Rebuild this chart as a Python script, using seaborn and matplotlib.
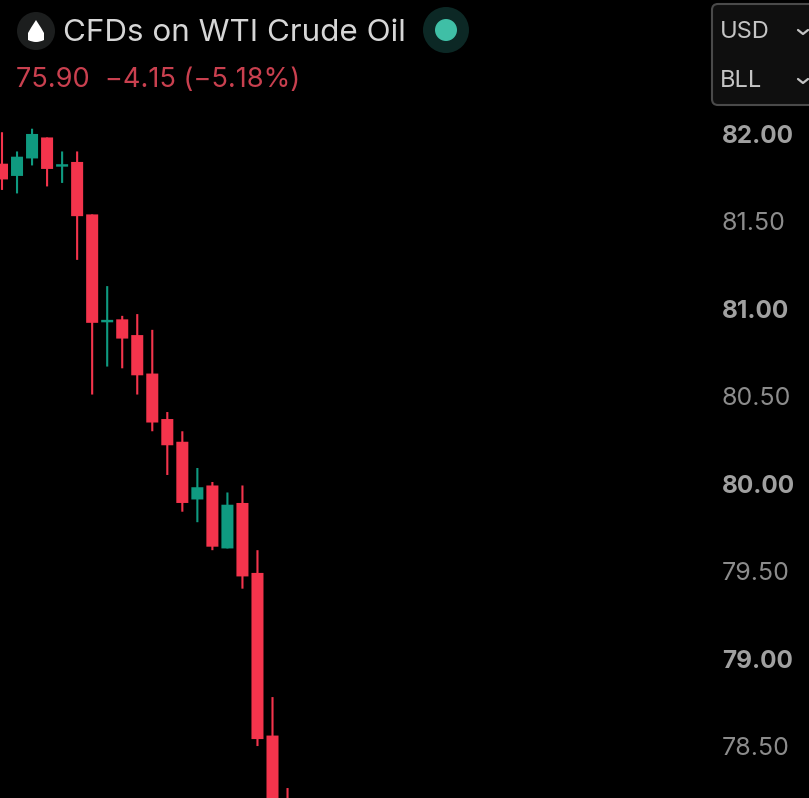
import pandas as pd
import matplotlib
matplotlib.use('Agg')
import matplotlib.pyplot as plt
from matplotlib.patches import Circle, FancyBboxPatch, PathPatch
from matplotlib.path import Path
import seaborn as sns

# candles
opens = [81.83, 81.76, 81.86, 81.98, 81.813, 81.84, 81.54, 80.923, 80.94, 80.85,
         80.63, 80.37, 80.24, 79.91, 79.99, 79.63, 79.89, 79.49, 78.56, 78.15]
closes = [81.74, 81.87, 82.00, 81.80, 81.827, 81.53, 80.92, 80.937, 80.83, 80.62,
          80.35, 80.22, 79.89, 79.98, 79.64, 79.88, 79.47, 78.54, 78.00, 77.80]
highs = [82.01, 81.90, 82.03, 81.98, 81.90, 81.90, 81.54, 81.13, 80.96, 80.97,
         80.88, 80.41, 80.30, 80.09, 80.01, 79.95, 79.99, 79.62, 78.78, 78.26]
lows = [81.68, 81.66, 81.82, 81.70, 81.72, 81.28, 80.51, 80.67, 80.66, 80.51,
        80.30, 80.05, 79.84, 79.78, 79.62, 79.63, 79.40, 78.50, 77.90, 77.70]
price_ticks = [82.0, 81.5, 81.0, 80.5, 80.0, 79.5, 79.0, 78.5]

title = 'CFDs on WTI Crude Oil'
quote = '75.90  \u22124.15 (\u22125.18%)'
units = ['USD', 'BLL']

RED = '#f4344c'
GREEN = '#0f9a80'
W, H = 809, 798

sns.set_theme(style='dark', rc={'axes.facecolor': 'black', 'figure.facecolor': 'black'})
plt.rcParams['font.family'] = ['Inter', 'DejaVu Sans']

df = pd.DataFrame({'open': opens, 'close': closes, 'high': highs, 'low': lows})
df['i'] = range(len(df))
df['up'] = df['close'] >= df['open']
df['bottom'] = df[['open', 'close']].min(axis=1)
df['body'] = (df['close'] - df['open']).abs()
df['wick'] = df['high'] - df['low']

fig = plt.figure(figsize=(W / 100, H / 100), dpi=100)
ax = fig.add_axes([0, 0, 1, 1])

# snap=False keeps every wick the same width
for is_up, color in [(True, GREEN), (False, RED)]:
    part = df[df['up'] == is_up]
    sns.barplot(data=part, x='i', y='wick', bottom=part['low'].values, color=color,
                native_scale=True, width=0.14, saturation=1, linewidth=0, snap=False, ax=ax)
    sns.barplot(data=part, x='i', y='body', bottom=part['bottom'].values, color=color,
                native_scale=True, width=0.8, saturation=1, linewidth=0, snap=False, ax=ax)

# one candle is about 15 px, first one sits at x=2
ax.set_xlim(-0.133, 53.7)
ax.set_ylim(78.203, 82.766)
ax.set_xlabel('')
ax.set_ylabel('')
ax.set_xticks([])
ax.grid(False)
for s in ax.spines.values():
    s.set_visible(False)

ax.yaxis.tick_right()
ax.set_yticks(price_ticks)
ax.set_yticklabels([f'{p:.2f}' for p in price_ticks])
ax.tick_params(axis='y', length=0, pad=-62.8, labelsize=18)
for p, lab in zip(price_ticks, ax.get_yticklabels()):
    lab.set_ha('left')
    if p == int(p):
        lab.set_fontweight('bold')
        lab.set_fontsize(17.5)
        lab.set_color('#a0a0a0')
    else:
        lab.set_color('#8c8c8c')

# header drawn in pixel coordinates
top = fig.add_axes([0, 0, 1, 1], facecolor='none')
top.set_xlim(0, W)
top.set_ylim(H, 0)
top.axis('off')

top.add_patch(Circle((36, 31), 19, color='#1c1e1e', lw=0))
drop = Path([(36, 20), (30, 29), (28, 33), (28, 36), (28, 40), (32, 42), (36, 42),
             (40, 42), (44, 40), (44, 36), (44, 33), (42, 29), (36, 20), (36, 20)],
            [Path.MOVETO, Path.CURVE3, Path.CURVE3, Path.CURVE3, Path.CURVE3, Path.CURVE3, Path.CURVE3,
             Path.CURVE3, Path.CURVE3, Path.CURVE3, Path.CURVE3, Path.CURVE3, Path.CURVE3, Path.CLOSEPOLY])
top.add_patch(PathPatch(drop, fc='white', lw=0))
top.add_patch(Circle((446, 30), 23, color='#0c2825', lw=0))
top.add_patch(Circle((446, 30), 11, color='#3fbfa6', lw=0))

top.text(63, 33, title, color='#d6d6d6', fontsize=22.6, va='center', ha='left')
top.text(16, 80, quote, color='#c9404f', fontsize=19.6, va='center', ha='left')

top.add_patch(FancyBboxPatch((712, 4), 114, 101, boxstyle='round,pad=0,rounding_size=6',
                             fc='#0f0f0f', ec='#4a4a4a', lw=1.5, mutation_aspect=1))
for lab, y in zip(units, [32, 81]):
    top.text(720, y, lab, color='#c4c4c4', fontsize=17, va='center', ha='left')
    top.plot([798, 803, 808], [y - 2, y + 2, y - 2], color='#c4c4c4', lw=1.6)

fig.savefig('out.png', dpi=100, facecolor='black')
